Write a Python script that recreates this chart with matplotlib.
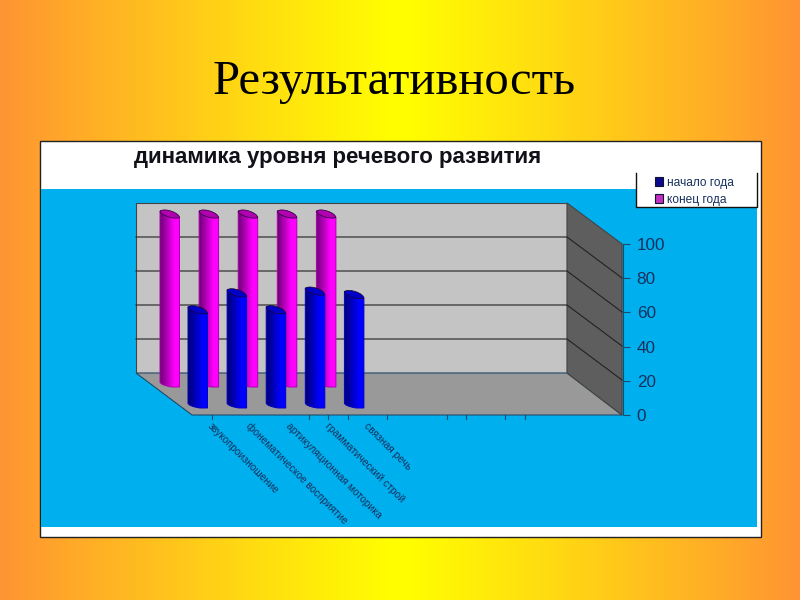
import numpy as np
import matplotlib
matplotlib.use("Agg")
import matplotlib.pyplot as plt
from matplotlib.patches import Polygon, Rectangle, PathPatch, Patch
from matplotlib.path import Path

page_title = "Результативность"
chart_title = "динамика уровня речевого развития"
categories = ["звукопроизношение", "фонематическое восприятие",
              "артикуляционная моторика", "грамматический строй", "связная речь"]
series_names = ["начало года", "конец года"]
start_values = [56, 66, 56, 67, 65]
end_values = [100, 100, 100, 100, 100]
value_ticks = [0, 20, 40, 60, 80, 100]

fig = plt.figure(figsize=(8, 6), dpi=100)
ax = fig.add_axes([0, 0, 1, 1])
ax.set_xlim(0, 800)
ax.set_ylim(600, 0)
ax.axis("off")

# page background: orange edges to yellow centre
t = np.abs(np.linspace(-1, 1, 800))[None, :, None]
orange = np.array([1.0, 0.58, 0.2])
yellow = np.array([1.0, 1.0, 0.0])
ax.imshow(yellow + (orange - yellow) * t ** 1.1, extent=(0, 800, 600, 0), aspect="auto", zorder=0)

ax.text(394.5, 94, page_title, family="Liberation Serif", fontsize=35, ha="center", va="baseline", color="black")

# chart frame
ax.add_patch(Rectangle((40, 141), 721, 396, fc="white", ec="#222222", lw=1, zorder=1))
ax.add_patch(Rectangle((41, 189), 716, 338, fc="#00B0EE", ec="none", zorder=1))
ax.text(338, 162.5, chart_title, family="Liberation Sans", fontweight="bold", fontsize=16,
        ha="center", va="baseline", color="#111118", zorder=2)

# 3-D box
ax.add_patch(Polygon([(136, 203), (567, 203), (567, 373), (136, 373)], fc="#C4C4C4", ec="#444444", lw=0.8, zorder=2))
ax.add_patch(Polygon([(136, 373), (567, 373), (622, 415), (192, 415)], fc="#999999", ec="#1f4a6a", lw=0.8, zorder=2))
ax.add_patch(Polygon([(567, 203), (622, 244), (622, 415), (567, 373)], fc="#5E5E5E", ec="#444444", lw=0.8, zorder=2))

BACK_BASE, BACK_SCALE = 373.0, 1.70
for v in value_ticks[1:-1]:
    y = BACK_BASE - v * BACK_SCALE
    ax.plot([136, 567, 622], [y, y, y + 41], color="#222222", lw=0.8, zorder=3)

# category ticks on the floor's front edge
for x in [211.5, 309, 328, 348, 387, 447, 466, 505, 525]:
    ax.plot([x, x], [415, 419], color="#1f4a6a", lw=0.8, zorder=3)


def cylinder(x0, base, value, cmap_colors, cap_color, z):
    w = 19.5
    x1 = x0 + w
    top = base - value * 1.70
    k = Path.CURVE4
    verts = [(x0, top - 3), (x1, top + 3.5), (x1, base + 3), (x0 + w * 0.62, base + 3),
             (x0 + w * 0.25, base + 2), (x0, base), (x0, base - 2), (x0, top - 3)]
    codes = [Path.MOVETO, Path.LINETO, Path.LINETO, Path.LINETO, k, k, k, Path.LINETO]
    body = PathPatch(Path(verts, codes), fc="none", ec="none", zorder=z)
    ax.add_patch(body)
    c0, c1 = np.array(cmap_colors[0]), np.array(cmap_colors[1])
    ramp = np.clip(np.linspace(0, 1.35, 64), 0, 1)[:, None]
    grad = (c0 + (c1 - c0) * ramp)[None, :, :]
    im = ax.imshow(grad, extent=(x0, x1, base + 4, top - 6), aspect="auto", zorder=z)
    im.set_clip_path(body)
    ax.add_patch(PathPatch(Path(verts, codes), fc="none", ec=cap_color, lw=0.7, zorder=z + 0.1))
    # slanted elliptical cap
    cap = Path([(x0, top - 3), (x0 + 5, top - 6.5), (x1, top - 1), (x1, top + 3.5),
                (x1 - 5, top + 6), (x0, top + 1), (x0, top - 3)],
               [Path.MOVETO, k, k, k, k, k, k])
    ax.add_patch(PathPatch(cap, fc=cap_color, ec="#200030", lw=0.5, zorder=z + 0.2))


for i, v in enumerate(end_values):
    cylinder(160 + 39.1 * i, 384.0, v, [(0.42, 0, 0.45), (1, 0, 1)], "#B000B0", 4 + i * 0.5)
for i, v in enumerate(start_values):
    cylinder(188 + 39.1 * i, 405.0, v, [(0, 0, 0.45), (0, 0, 1)], "#0000C8", 8 + i * 0.5)

# category labels
for i, name in enumerate(categories):
    ax.text(209 + 39.1 * i, 424, name, rotation=-45, rotation_mode="anchor", ha="left", va="center",
            family="Liberation Sans", fontsize=7.4, color="#16305e", zorder=12)

# value axis
ax_val = fig.add_axes([622 / 800, 1 - 415 / 600, 0.001, 171 / 600])
ax_val.patch.set_alpha(0)
ax_val.set_ylim(0, 100)
ax_val.set_xticks([])
ax_val.set_yticks(value_ticks)
for s in ["left", "top", "bottom"]:
    ax_val.spines[s].set_visible(False)
ax_val.spines["right"].set_color("#1f4a6a")
ax_val.yaxis.tick_right()
ax_val.tick_params(axis="y", length=5, color="#1f4a6a", pad=5, labelsize=12.3, labelcolor="#16305e")
for lab in ax_val.get_yticklabels():
    lab.set_family("Liberation Sans")

# legend
ax.add_patch(Rectangle((636, 173), 121, 34, fc="white", ec="none", zorder=12.5))
handles = [Patch(fc="#0A0A90", ec="#101030", lw=0.8), Patch(fc="#C030C0", ec="#101030", lw=0.8)]
leg = ax.legend(handles, series_names, loc="upper right", bbox_to_anchor=(738, 172.5),
                bbox_transform=ax.transData, prop={"family": "Liberation Sans", "size": 8.6},
                frameon=False, labelcolor="#16305e", handlelength=0.65, handleheight=0.8,
                handletextpad=0.35, labelspacing=0.45, borderpad=0.35, borderaxespad=0)
leg.set_zorder(13)
ax.plot([636, 636, 757, 757], [173, 207, 207, 173], color="#111111", lw=1, zorder=14)

fig.savefig("out.png", dpi=100)
